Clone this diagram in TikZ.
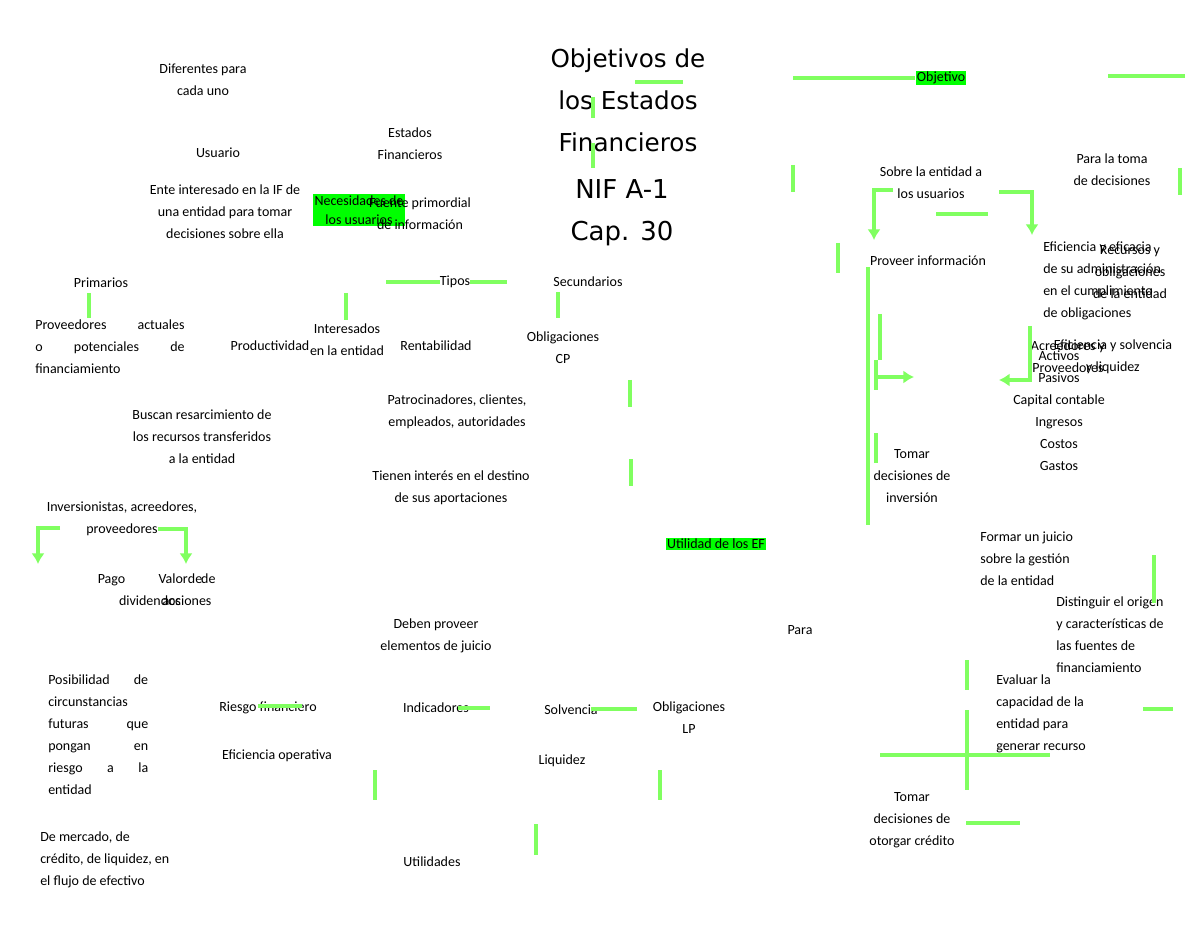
\documentclass[tikz,border=0pt]{standalone}
\usepackage{fontspec}
\setmainfont{Carlito}
\newfontfamily\titlefont{DejaVu Sans}
\definecolor{bar}{HTML}{80FF60}
\definecolor{hl}{HTML}{00FF00}
\usetikzlibrary{arrows.meta}
\newcommand{\jl}[2]{\makebox[#1][s]{#2}}
\begin{document}
\begin{tikzpicture}[x=0.75pt,y=-0.75pt,
  t/.style={align=center,font=\fontsize{10.5}{16.5}\selectfont,inner sep=0pt},
  tl/.style={align=left,font=\fontsize{10.5}{16.5}\selectfont,inner sep=0pt,anchor=north west},
  h/.style={t,fill=hl,inner sep=1pt},
  b/.style={draw=bar,line width=3pt},
  ba/.style={b,-{Latex[length=8pt,width=10pt]}}]
\useasboundingbox (0,0) rectangle (1200,927);
\fill[white] (0,0) rectangle (1200,927);
% texts
\node[t] (n1) at (203,80) {Diferentes para\\cada uno};
\node[t] (n2) at (218,153) {Usuario};
\node[t] (n3) at (410,144) {Estados\\Financieros};
\node[align=center,font=\titlefont\fontsize{18.5}{31.5}\selectfont,inner sep=0pt] (ti) at (628,100) {Objetivos de\\los Estados\\Financieros};
\node[align=center,font=\titlefont\fontsize{19.5}{31.5}\selectfont,inner sep=0pt] (nif) at (622,213) {NIF A-1\\Cap. 30};
\node[h] (obj) at (941,78) {Objetivo};
\node[t] (n4) at (1112,170) {Para la toma\\de decisiones};
\node[t] (sob) at (931,183) {Sobre la entidad a\\los usuarios};
\node[t] (n5) at (225,212) {Ente interesado en la IF de\\una entidad para tomar\\decisiones sobre ella};
\node[h,align=center,font=\fontsize{10.5}{14}\selectfont] (nec) at (359,210) {Necesidades de\\los usuarios};
\node[t] (n6) at (420,214) {Fuente primordial\\de información};
\node[t] (prov) at (928,261) {Proveer información};
\node[tl] (n7) at (1043,242) {Eficiencia y eficacia\\de su administración\\en el cumplimiento\\de obligaciones};
\node[t] (n8) at (1130,272) {Recursos y\\obligaciones\\de la entidad};
\node[t] (prim) at (101,283) {Primarios};
\node[t] (tip) at (455,282) {Tipos};
\node[t] (sec) at (588,282) {Secundarios};
\node[tl] (n9) at (35,320) {\jl{112pt}{Proveedores actuales}\\\jl{112pt}{o potenciales de}\\financiamiento};
\node[t] (n10) at (270,346) {Productividad};
\node[t] (n11) at (347,340) {Interesados\\en la entidad};
\node[t] (n12) at (436,346) {Rentabilidad};
\node[t] (n13) at (563,348) {Obligaciones\\CP};
\node[t] (n14) at (1068,357) {Acreedores y\\Proveedores};
\node[t] (n15) at (1059,367) {Activos\\Pasivos};
\node[t] (n16) at (1113,357) {Eficiencia y solvencia\\y liquidez};
\node[t] (n17) at (1059,433) {Capital contable\\Ingresos\\Costos\\Gastos};
\node[t] (n18) at (202,437) {Buscan resarcimiento de\\los recursos transferidos\\a la entidad};
\node[t] (n19) at (457,412) {Patrocinadores, clientes,\\empleados, autoridades};
\node[t] (inv) at (912,476) {Tomar\\decisiones de\\inversión};
\node[t] (n20) at (451,488) {Tienen interés en el destino\\de sus aportaciones};
\node[t] (insv) at (122,519) {Inversionistas, acreedores,\\proveedores};
\node[h] (util) at (716,544) {Utilidad de los EF};
\node[tl] (n21) at (980,532) {Formar un juicio\\sobre la gestión\\de la entidad};
\node[t] (pago) at (150,590) {Pago\hspace{47pt}de\\dividendos};
\node[t] (val) at (187,590) {Valor\hspace{10pt}de\\acciones};
\node[tl] (n22) at (1056,597) {Distinguir el origen\\y características de\\las fuentes de\\financiamiento};
\node[t] (n23) at (436,636) {Deben proveer\\elementos de juicio};
\node[t] (para) at (800,630) {Para};
\node[tl] (n24) at (48,675) {\jl{75pt}{Posibilidad de}\\circunstancias\\\jl{75pt}{futuras que}\\\jl{75pt}{pongan en}\\\jl{75pt}{riesgo a la}\\entidad};
\node[tl] (n25) at (996,675) {Evaluar la\\capacidad de la\\entidad para\\generar recurso};
\node[t] (rf) at (268,708) {Riesgo financiero};
\node[t] (ind) at (436,708) {Indicadores};
\node[t] (sol) at (571,710) {Solvencia};
\node[t] (olp) at (689,718) {Obligaciones\\LP};
\node[t] (eo) at (277,756) {Eficiencia operativa};
\node[t] (liq) at (562,761) {Liquidez};
\node[t] (cred) at (912,820) {Tomar\\decisiones de\\otorgar crédito};
\node[tl] (n26) at (40,832) {De mercado, de\\crédito, de liquidez, en\\el flujo de efectivo};
\node[t] (utl) at (432,862) {Utilidades};
% bars
\coordinate (c1) at (635,82); \coordinate (c2) at (683,82);
\draw[b] (c1) -- (c2);
\draw[b] (793,78) -- (obj.west);
\draw[b] (1108,76) -- (1185,76);
\draw[b] (593,97) -- (593,118); \draw[b] (593,143) -- (593,168);
\draw[b] (793,165) -- (793,192);
\draw[b] (1180,168) -- (1180,195);
\draw[ba] (893,190) -- (874,190) -- (874,240);
\draw[ba] (999,192) -- (1032,192) -- (1032,235);
\draw[b] (936,214) -- (988,214);
\draw[b] (838,243) -- (838,273);
\draw[b] (868,267) -- (868,525);
\draw[b] (880,314) -- (880,360);
\draw[b] (876,360) -- (876,390);
\draw[ba] (876,377) -- (914,377);
\draw[ba] (1030,326) -- (1030,380) -- (999,380);
\draw[b] (876,433) -- (876,463);
\draw[b] (386,282) -- (tip.west);
\draw[b] (tip.east) -- ++(37,0);
\draw[b] (346,293) -- (346,320);
\draw[b] (558,292) -- (558,318);
\draw[b] (89,293) -- (89,318);
\draw[b] (630,380) -- (630,407);
\draw[b] (631,459) -- (631,486);
\draw[ba] (60,528) -- (38,528) -- (38,564);
\draw[ba] (158,529) -- (186,529) -- (186,564);
\draw[b] (1154,555) -- (1154,603);
\draw[b] (967,660) -- (967,690);
\draw[b] (1143,709) -- (1173,709);
\draw[b] (880,755) -- (1050,755);
\draw[b] (967,710) -- (967,790);
\draw[b] (966,823) -- (1020,823);
\draw[b] (258,706) -- (302,706);
\draw[b] (458,708) -- (490,708);
\draw[b] (591,709) -- (637,709);
\draw[b] (375,770) -- (375,800);
\draw[b] (660,770) -- (660,800);
\draw[b] (536,824) -- (536,855);
\end{tikzpicture}
\end{document}
